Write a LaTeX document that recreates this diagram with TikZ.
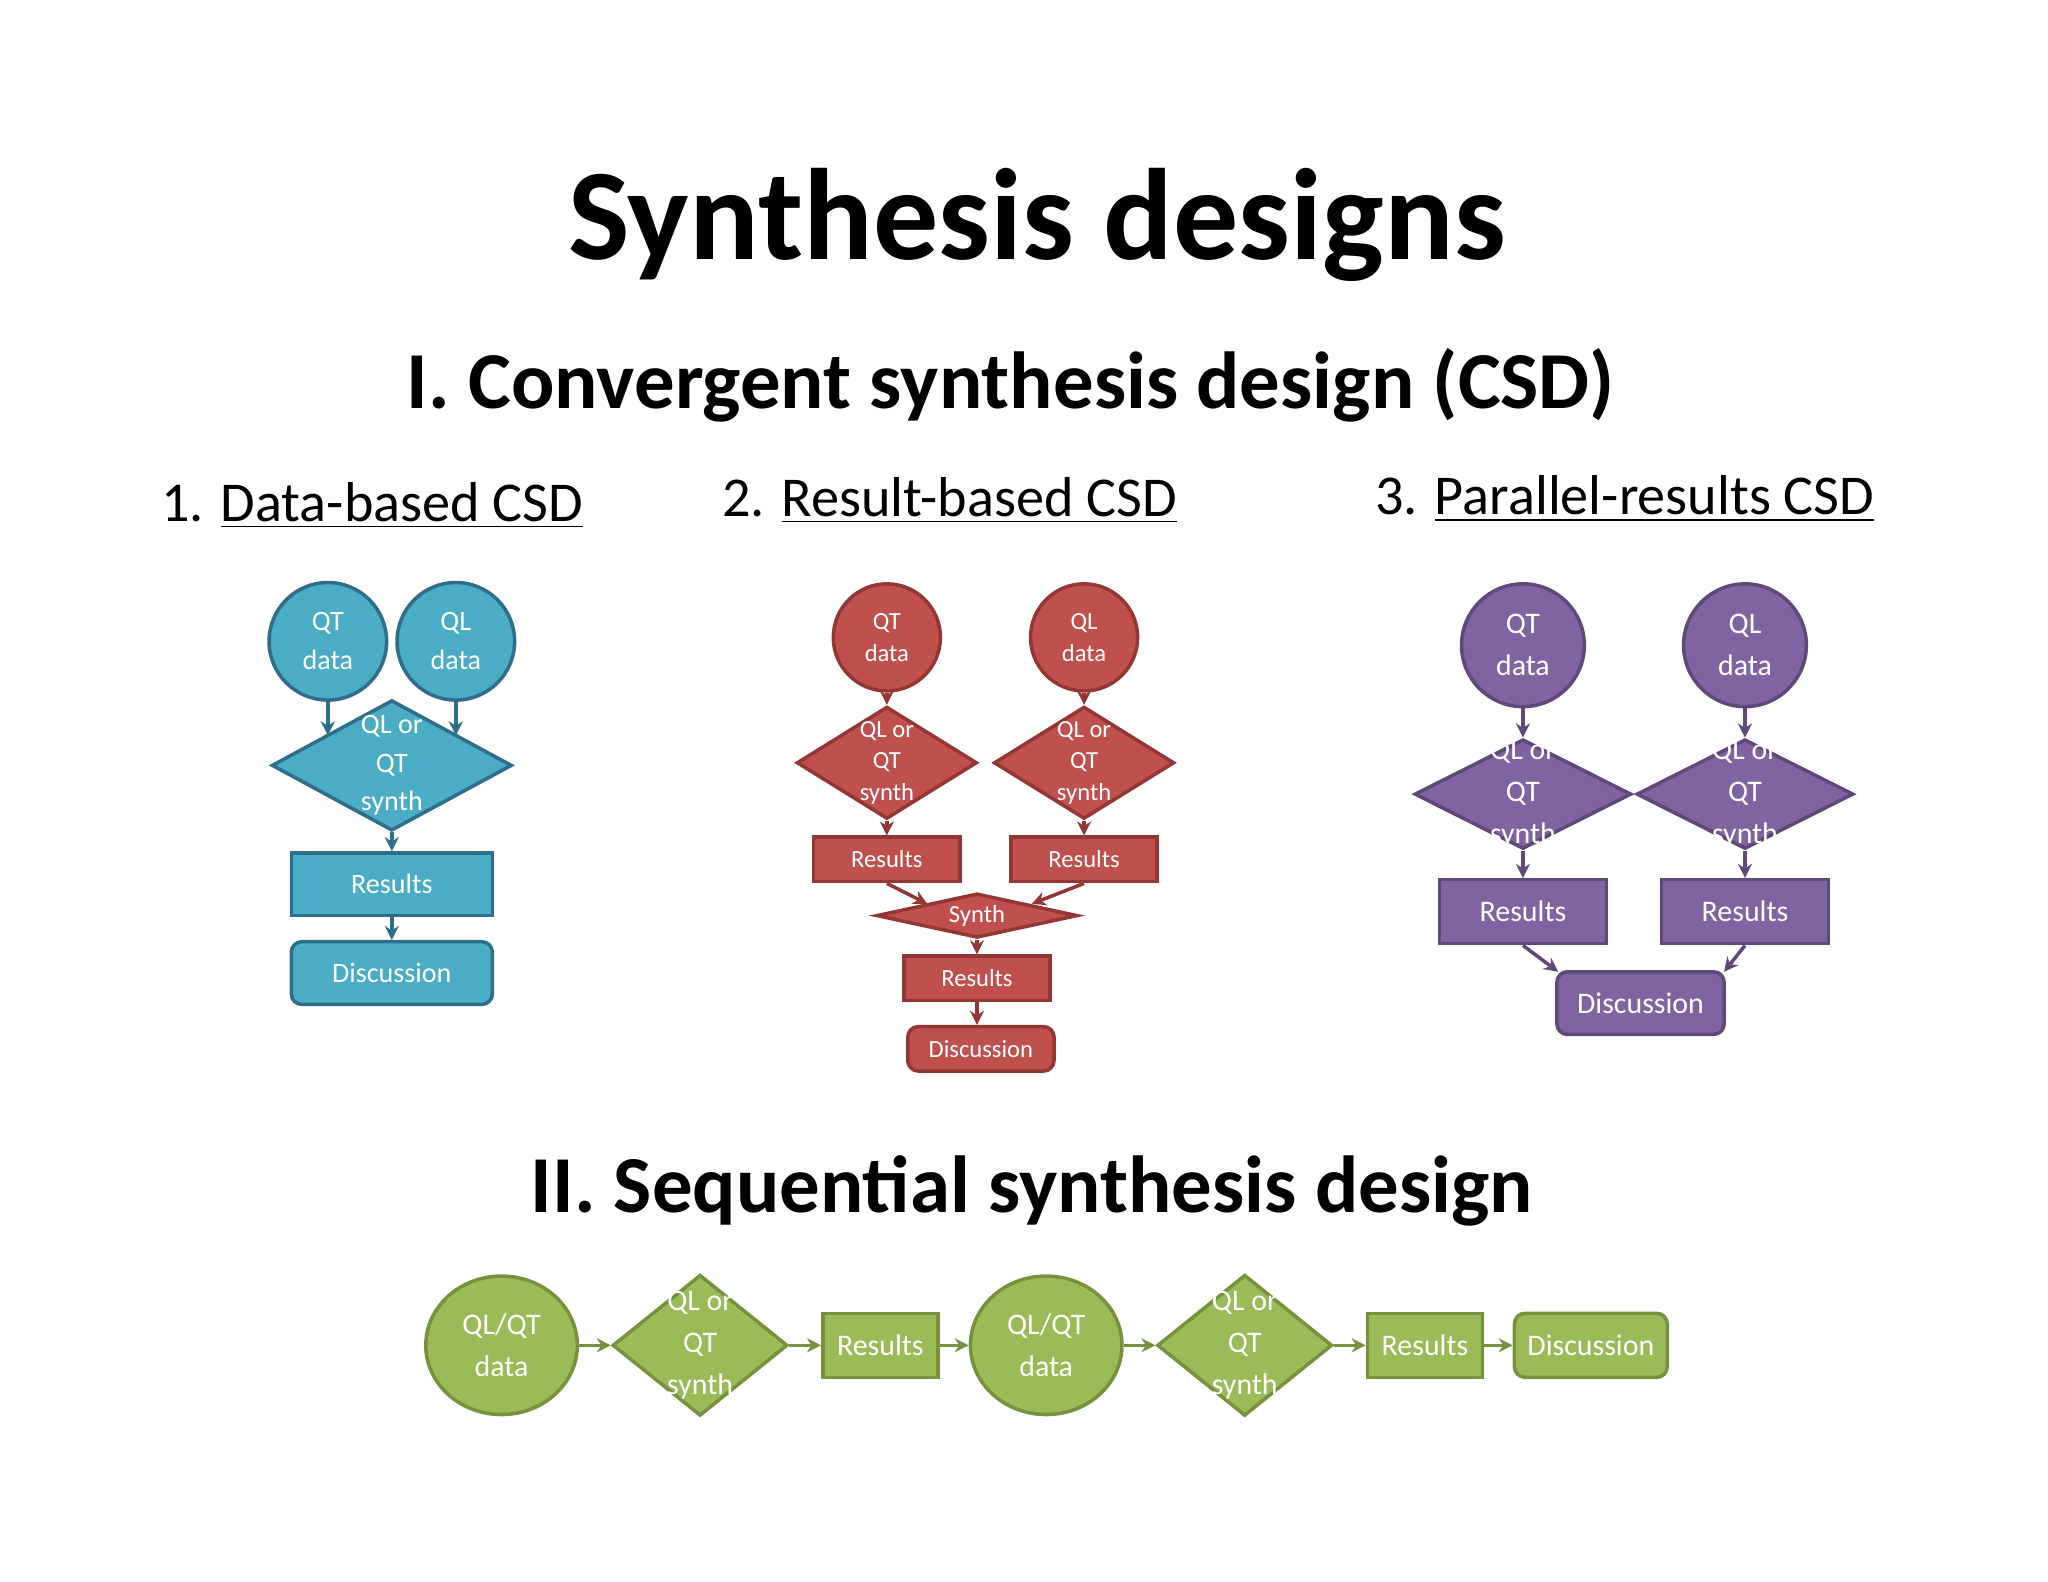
\documentclass[tikz,border=0pt]{standalone}
\usepackage{fontspec}
\setmainfont{Carlito}
\usetikzlibrary{shapes.geometric,arrows.meta}
\definecolor{bF}{HTML}{4BACC6}\definecolor{bD}{HTML}{2F6E8A}
\definecolor{rF}{HTML}{C0504D}\definecolor{rD}{HTML}{943634}
\definecolor{pF}{HTML}{8064A2}\definecolor{pD}{HTML}{5F497A}
\definecolor{gF}{HTML}{9BBB59}\definecolor{gD}{HTML}{76923C}
\def\u{0.013061cm}
\begin{document}
\begin{tikzpicture}[x=\u,y=-\u,
 base/.style={draw=#1D,fill=#1F,line width=1pt,text=white,align=center,inner sep=0pt},
 circ/.style={base=#1,circle},
 dia/.style={base=#1,diamond},
 box/.style={base=#1,rectangle},
 rbox/.style={base=#1,rectangle,rounded corners=3pt},
 lab/.style 2 args={text=white,align=center,font=\fontsize{#1}{#2}\selectfont},
 arr/.style={draw=#1D,line width=1pt,-{Stealth[length=4pt,width=4pt]}},
 head/.style={font=\fontsize{16}{18}\selectfont}]
\useasboundingbox (0,0) rectangle (1568,1211);
\fill[white] (0,0) rectangle (1568,1211);
\node[font=\bfseries\fontsize{37}{40}\selectfont] (t) at (794,172) {Synthesis designs};
\node[font=\bfseries\fontsize{23}{26}\selectfont] (t1) at (774,295) {I. Convergent synthesis design (CSD)};
\node[head] (h1) at (285,387) {1. \underline{Data-based CSD}};
\node[head] (h2) at (727,383) {2. \underline{Result-based CSD}};
\node[head] (h3) at (1244,382) {3. \underline{Parallel-results CSD}};
\node[font=\bfseries\fontsize{23}{26}\selectfont] (t2) at (790,912) {II. Sequential synthesis design};
% CSD 1
\begin{scope}[every node/.append style={font=\fontsize{8}{11}\selectfont}]
\node[circ=b,minimum size=90*\u] (a1) at (251,491) {QT\\data};
\node[circ=b,minimum size=90*\u] (a2) at (349,491) {QL\\data};
\node[dia=b,minimum width=184*\u,minimum height=100*\u] (ad) at (300,586) {};
\node[lab={8}{11}] at (ad) {QL or\\QT\\synth};
\node[box=b,minimum width=154*\u,minimum height=48*\u] (ar) at (300,677) {Results};
\node[rbox=b,minimum width=154*\u,minimum height=48*\u] (ac) at (300,745) {Discussion};
\end{scope}
\draw[arr=b] (a1.south) -- (251,563);
\draw[arr=b] (a2.south) -- (349,563);
\draw[arr=b] (ad.south) -- (ar.north);
\draw[arr=b] (ar) -- (ac);
% CSD 2
\begin{scope}[every node/.append style={font=\fontsize{7}{9}\selectfont}]
\node[circ=r,minimum size=82*\u] (b1) at (679,488) {QT\\data};
\node[circ=r,minimum size=82*\u] (b2) at (830,488) {QL\\data};
\node[dia=r,minimum width=138*\u,minimum height=86*\u] (bd1) at (679,584) {};
\node[lab={7}{9}] at (bd1) {QL or\\QT\\synth};
\node[dia=r,minimum width=138*\u,minimum height=86*\u] (bd2) at (830,584) {};
\node[lab={7}{9}] at (bd2) {QL or\\QT\\synth};
\node[box=r,minimum width=112*\u,minimum height=34*\u] (br1) at (679,658) {Results};
\node[box=r,minimum width=112*\u,minimum height=34*\u] (br2) at (830,658) {Results};
\node[dia=r,minimum width=154*\u,minimum height=34*\u] (bs) at (748,701) {};
\node[lab={7}{9}] at (bs) {Synth};
\node[box=r,minimum width=112*\u,minimum height=34*\u] (br3) at (748,749) {Results};
\node[rbox=r,minimum width=112*\u,minimum height=34*\u] (bc) at (751,803) {Discussion};
\end{scope}
\draw[arr=r] (b1) -- (bd1.north);
\draw[arr=r] (b2) -- (bd2.north);
\draw[arr=r] (bd1.south) -- (br1);
\draw[arr=r] (bd2.south) -- (br2);
\draw[arr=r] (br1.south) -- (710,692);
\draw[arr=r] (br2.south) -- (790,692);
\draw[arr=r] (bs.south) -- (br3);
\draw[arr=r] (br3) -- (br3|-bc.north);
% CSD 3
\begin{scope}[every node/.append style={font=\fontsize{8.5}{12}\selectfont}]
\node[circ=p,minimum size=94*\u] (c1) at (1166,494) {QT\\data};
\node[circ=p,minimum size=94*\u] (c2) at (1336,494) {QL\\data};
\node[dia=p,minimum width=166*\u,minimum height=84*\u] (cd1) at (1166,608) {};
\node[lab={8.5}{12}] at (cd1) {QL or\\QT\\synth};
\node[dia=p,minimum width=166*\u,minimum height=84*\u] (cd2) at (1336,608) {};
\node[lab={8.5}{12}] at (cd2) {QL or\\QT\\synth};
\node[box=p,minimum width=128*\u,minimum height=49*\u] (cr1) at (1166,698) {Results};
\node[box=p,minimum width=128*\u,minimum height=49*\u] (cr2) at (1336,698) {Results};
\node[rbox=p,minimum width=128*\u,minimum height=48*\u] (cc) at (1256,768) {Discussion};
\end{scope}
\draw[arr=p] (c1) -- (cd1.north);
\draw[arr=p] (c2) -- (cd2.north);
\draw[arr=p] (cd1.south) -- (cr1);
\draw[arr=p] (cd2.south) -- (cr2);
\draw[arr=p] (cr1.south) -- (1193,744);
\draw[arr=p] (cr2.south) -- (1320,744);
% Sequential
\begin{scope}[every node/.append style={font=\fontsize{8.5}{12}\selectfont}]
\node[base=g,ellipse,minimum width=116*\u,minimum height=106*\u] (g1) at (384,1030) {QL/QT\\data};
\node[dia=g,minimum width=134*\u,minimum height=108*\u] (g2) at (536,1030) {};
\node[lab={8.5}{12}] at (g2) {QL or\\QT\\synth};
\node[box=g,minimum width=88*\u,minimum height=49*\u] (g3) at (674,1030) {Results};
\node[base=g,ellipse,minimum width=116*\u,minimum height=106*\u] (g4) at (801,1030) {QL/QT\\data};
\node[dia=g,minimum width=134*\u,minimum height=108*\u] (g5) at (953,1030) {};
\node[lab={8.5}{12}] at (g5) {QL or\\QT\\synth};
\node[box=g,minimum width=88*\u,minimum height=49*\u] (g6) at (1091,1030) {Results};
\node[rbox=g,minimum width=117*\u,minimum height=49*\u] (g7) at (1218,1030) {Discussion};
\end{scope}
\foreach \a/\b in {g1/g2,g2/g3,g3/g4,g4/g5,g5/g6,g6/g7}
  \draw[arr=g] (\a) -- (\b);
\end{tikzpicture}
\end{document}
